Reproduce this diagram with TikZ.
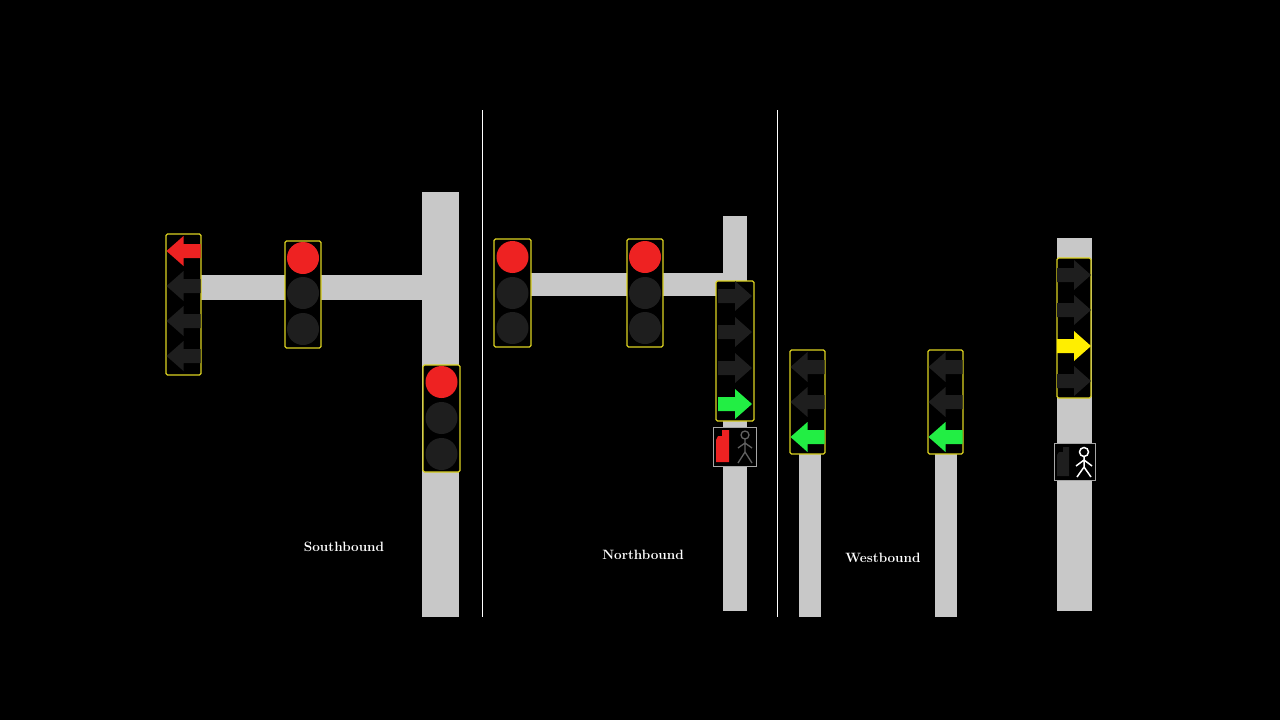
\documentclass[tikz,border=0pt]{standalone}
\begin{document}
\begin{tikzpicture}[x=1pt,y=-1pt,
  pole/.style={fill=poleC,draw=none},
  head/.style={fill=black,draw=yellow!85!black,line width=1.2pt,rounded corners=1.5pt},
  lbl/.style={text=white,font=\bfseries\fontsize{13.5}{15}\selectfont},
  arr/.pic={\fill[pic actions] (-17,-7)--(0,-7)--(0,-15)--(17,0)--(0,15)--(0,7)--(-17,7)--cycle;}]
\definecolor{poleC}{HTML}{C8C8C8}
\definecolor{dk}{HTML}{1E1E1E}
\definecolor{rd}{HTML}{EE2222}
\definecolor{gn}{HTML}{22EE44}
\definecolor{yl}{HTML}{FFEE00}
\fill[black] (0,0) rectangle (1280,720);
\useasboundingbox (0,0) rectangle (1280,720);
% dividers
\draw[white,line width=1pt] (482,110)--(482,617) (777,110)--(777,617);
% Southbound
\fill[pole] (200,275) rectangle (425,300);
\fill[pole] (422,192) rectangle (459,617);
\draw[head] (166,234) rectangle (201,375);
\pic[fill=rd,xscale=-1] at (183.5,251) {arr};
\foreach \y in {286,321,356} \pic[fill=dk,xscale=-1] at (183.5,\y) {arr};
\draw[head] (285,241) rectangle (321,348);
\fill[rd] (303,258) circle (16);
\fill[dk] (303,293) circle (16) (303,329) circle (16);
\draw[head] (423,365) rectangle (460,472);
\fill[rd] (441.5,382) circle (16);
\fill[dk] (441.5,418) circle (16) (441.5,454) circle (16);
\node[lbl] (sb) at (344,547) {Southbound};
% Northbound
\fill[pole] (530,273) rectangle (725,296);
\fill[pole] (723,216) rectangle (747,611);
\draw[head] (494,239) rectangle (531,347);
\fill[rd] (512.5,257) circle (16);
\fill[dk] (512.5,293) circle (16) (512.5,328) circle (16);
\draw[head] (627,239) rectangle (663,347);
\fill[rd] (645,257) circle (16);
\fill[dk] (645,293) circle (16) (645,328) circle (16);
\draw[head] (716,281) rectangle (754,421);
\foreach \y in {296,332,368} \pic[fill=dk] at (735,\y) {arr};
\pic[fill=gn] at (735,404) {arr};
\draw[fill=black,draw=gray!70,line width=0.8pt] (713,427) rectangle (756,466);
\fill[rd] (718,436)--(722,436)--(722,430)--(729,430)--(729,462)--(716,462)--(716,440)--cycle;
\begin{scope}[draw=dk!70,line width=1.3pt]
\draw (745,435) circle (4);
\draw (745,439)--(745,452)--(738,463) (745,452)--(752,463) (738,448)--(745,443)--(752,448);
\end{scope}
\node[lbl] (nb) at (643,555) {Northbound};
% Westbound
\fill[pole] (799,450) rectangle (821,617);
\draw[head] (790,350) rectangle (825,454);
\foreach \y in {367,402} \pic[fill=dk,xscale=-1] at (807.5,\y) {arr};
\pic[fill=gn,xscale=-1] at (807.5,437) {arr};
\fill[pole] (935,450) rectangle (957,617);
\draw[head] (928,350) rectangle (963,454);
\foreach \y in {367,402} \pic[fill=dk,xscale=-1] at (945.5,\y) {arr};
\pic[fill=gn,xscale=-1] at (945.5,437) {arr};
\fill[pole] (1057,238) rectangle (1092,611);
\draw[head] (1057,258) rectangle (1091,398);
\foreach \y in {275,310,381} \pic[fill=dk] at (1074,\y) {arr};
\pic[fill=yl] at (1074,346) {arr};
\draw[fill=black,draw=gray!70,line width=0.8pt] (1054,443) rectangle (1095,480);
\fill[dk] (1059,452)--(1063,452)--(1063,447)--(1069,447)--(1069,476)--(1057,476)--(1057,455)--cycle;
\begin{scope}[draw=white,line width=1.5pt]
\draw (1084,452) circle (4.5);
\draw (1084,457)--(1084,467)--(1077,477) (1084,467)--(1091,477) (1076,466)--(1084,460)--(1092,466);
\end{scope}
\node[lbl] (wb) at (883,558) {Westbound};
\end{tikzpicture}
\end{document}
